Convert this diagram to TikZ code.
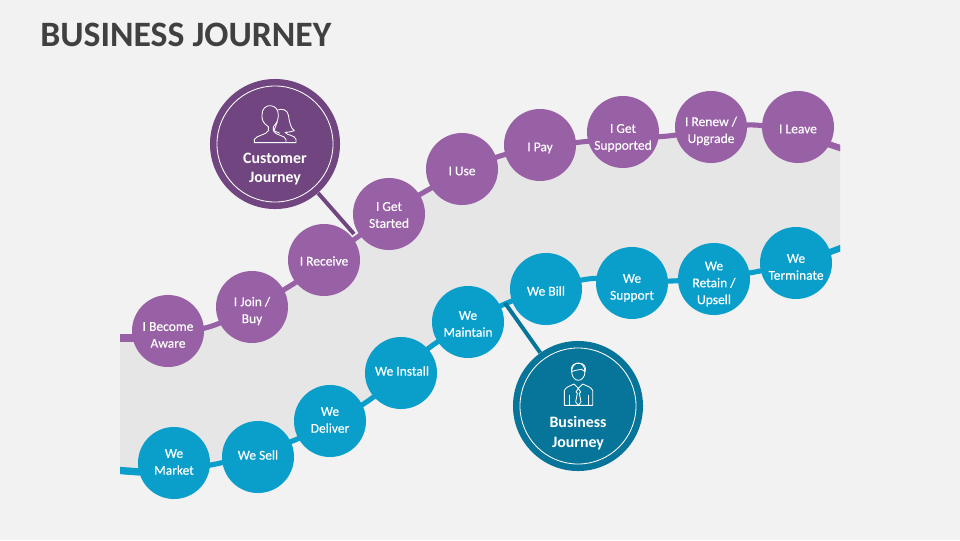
\documentclass[tikz,border=0pt]{standalone}
\usepackage{fontspec}
\setmainfont{Carlito}
\newfontfamily\stepfont[FakeBold=0.3]{Carlito}
\usetikzlibrary{backgrounds}
\definecolor{pagegrey}{HTML}{F2F2F2}
\definecolor{bandgrey}{HTML}{E6E6E6}
\definecolor{titlegrey}{HTML}{404040}
\definecolor{custlight}{HTML}{9861A6}
\definecolor{custdark}{HTML}{714580}
\definecolor{buslight}{HTML}{0A9ECB}
\definecolor{busdark}{HTML}{07749A}
\tikzset{
  stepcust/.style={circle,fill=custlight,minimum size=1.8cm,inner sep=0pt},
  stepbus/.style={circle,fill=buslight,minimum size=1.8cm,inner sep=0pt},
  steptext/.style={text=white,inner sep=0pt,align=center,font=\stepfont\fontsize{9.6}{12}\selectfont},
  bigcirc/.style={circle,minimum size=3.25cm,inner sep=0pt},
  bigring/.style={circle,draw=white,line width=0.6pt,minimum size=2.9cm,inner sep=0pt},
  biglabel/.style={text=white,align=center,font=\fontsize{11.3}{14}\selectfont\bfseries},
  iconline/.style={draw=white,line width=0.6pt,line join=round}
}
\begin{document}
\begin{tikzpicture}[x=0.025cm,y=-0.025cm]
\useasboundingbox (0,0) rectangle (960,540);
\node[anchor=west,text=titlegrey,font=\fontsize{25.4}{30}\selectfont\bfseries,inner sep=0pt] (title) at (40,35) {BUSINESS JOURNEY};

\coordinate (custstart) at (114,338);
\coordinate (custs) at (135,338);
\coordinate (custa) at (212,326);
\coordinate (custb) at (290,286);
\coordinate (custc) at (359,236);
\coordinate (custd) at (426,191);
\coordinate (custf) at (500,156);
\coordinate (custg) at (581,142);
\coordinate (custh) at (668,136);
\coordinate (custi) at (755,125);
\coordinate (custj) at (828,144);
\coordinate (custend) at (846,150);

\coordinate (busstart) at (114,470);
\coordinate (buss) at (140,472);
\coordinate (busa) at (216,464);
\coordinate (busb) at (295,440);
\coordinate (busc) at (368,401);
\coordinate (busd) at (433,345);
\coordinate (buse) at (507,303);
\coordinate (busf) at (588,279);
\coordinate (busg) at (672,281);
\coordinate (bush) at (755,272);
\coordinate (busi) at (830,252);
\coordinate (busend) at (846,246);

\coordinate (custfoot) at (354,234);
\coordinate (busfoot) at (505,303);

\node[stepcust] (become) at (168,331) {};
\node[stepcust] (join) at (252,307) {};
\node[stepcust] (receive) at (324,260) {};
\node[stepcust] (started) at (389,214) {};
\node[stepcust] (use) at (462,169) {};
\node[stepcust] (pay) at (540,145) {};
\node[stepcust] (supported) at (623,132) {};
\node[stepcust] (renew) at (711,127) {};
\node[stepcust] (leave) at (798,127) {};

\node[stepbus] (market) at (174,463) {};
\node[stepbus] (sell) at (258,457) {};
\node[stepbus] (deliver) at (330,421) {};
\node[stepbus] (install) at (401,373) {};
\node[stepbus] (maintain) at (468,322) {};
\node[stepbus] (bill) at (546,289) {};
\node[stepbus] (support) at (632,283) {};
\node[stepbus] (retain) at (714,279) {};
\node[stepbus] (terminate) at (796,263) {};

\node[steptext] (becometext) at (168,335) {I Become\\Aware};
\node[steptext] (jointext) at (252,311) {I Join /\\Buy};
\node[steptext] (receivetext) at (324,261) {I Receive};
\node[steptext] (startedtext) at (389,215) {I Get\\Started};
\node[steptext] (usetext) at (462,171) {I Use};
\node[steptext] (paytext) at (540,148) {I Pay};
\node[steptext] (supportedtext) at (623,138) {I Get\\Supported};
\node[steptext] (renewtext) at (711,131) {I Renew /\\Upgrade};
\node[steptext] (leavetext) at (798,129) {I Leave};

\node[steptext] (markettext) at (174,462) {We\\Market};
\node[steptext] (selltext) at (258,455) {We Sell};
\node[steptext] (delivertext) at (330,420) {We\\Deliver};
\node[steptext] (installtext) at (402,371) {We Install};
\node[steptext] (maintaintext) at (468,324) {We\\Maintain};
\node[steptext] (billtext) at (546,291) {We Bill};
\node[steptext] (supporttext) at (632,288) {We\\Support};
\node[steptext] (retaintext) at (714,284) {We\\Retain /\\Upsell};
\node[steptext] (terminatetext) at (796,267) {We\\Terminate};

\node[bigcirc,fill=custdark] (cust) at (275,144) {};
\node[bigcirc,fill=busdark] (bus) at (578,406) {};
\node[bigring] (custring) at (cust) {};
\node[bigring] (busring) at (bus) {};
\node[biglabel] (custlabel) at (275,169) {Customer\\Journey};
\node[biglabel] (buslabel) at (578,433) {Business\\Journey};

\begin{pgfonlayer}{background}
\fill[pagegrey] (0,0) rectangle (960,540);
\begin{scope}
\clip (120,0) rectangle (840,540);
\fill[bandgrey] plot[smooth] coordinates {(custstart) (custs) (custa) (custb) (custc) (custd) (custf) (custg) (custh) (custi) (custj) (custend)}
  -- plot[smooth] coordinates {(busend) (busi) (bush) (busg) (busf) (buse) (busd) (busc) (busb) (busa) (buss) (busstart)} -- cycle;
\draw[custlight,line width=3.6pt] plot[smooth] coordinates {(custstart) (custs) (custa) (custb) (custc) (custd) (custf) (custg) (custh) (custi) (custj) (custend)};
\draw[buslight,line width=3.6pt] plot[smooth] coordinates {(busstart) (buss) (busa) (busb) (busc) (busd) (buse) (busf) (busg) (bush) (busi) (busend)};
\draw[custlight,line width=5.2pt] (custstart) -- (custs);
\draw[custlight,line width=4.4pt] (custj) -- (custend);
\draw[buslight,line width=5.2pt] (busstart) -- (buss);
\draw[buslight,line width=4.4pt] (busi) -- (busend);
\end{scope}
\draw[custdark,line width=2.8pt] (cust) -- (custfoot);
\draw[busdark,line width=2.8pt] (bus) -- (busfoot);
\end{pgfonlayer}

\begin{scope}[shift={(200,70)},x=0.00833cm,y=-0.00833cm]
\draw[iconline] (258,218) -- (163,218) -- (163,208) .. controls (170,195) and (200,195) .. (205,182) -- (205,170) .. controls (190,160) and (185,150) .. (186,135) .. controls (186,115) and (198,107) .. (210,107) .. controls (225,107) and (235,118) .. (235,135) .. controls (235,150) and (230,160) .. (220,170) -- (220,182) .. controls (225,197) and (255,195) .. (258,208) -- cycle;
\draw[iconline] (233,120) .. controls (245,115) and (262,118) .. (265,135) .. controls (268,155) and (272,175) .. (283,182) .. controls (275,186) and (265,186) .. (255,187) .. controls (262,197) and (285,195) .. (288,208) -- (288,218) -- (258,218);
\draw[iconline] (232,155) .. controls (228,165) and (225,175) .. (222,182) .. controls (228,186) and (235,187) .. (240,190);
\end{scope}

\begin{scope}[shift={(490,300)},x=0.00833cm,y=-0.00833cm]
\draw[iconline] (265,215) ellipse (20 and 26);
\draw[iconline] (245,215) .. controls (240,195) and (255,188) .. (268,190) .. controls (282,190) and (290,200) .. (285,215) .. controls (280,208) and (270,205) .. (262,210) .. controls (255,212) and (250,212) .. (245,215) -- cycle;
\draw[iconline] (223,316) -- (223,272) .. controls (225,262) and (240,258) .. (252,252) -- (265,265) -- (278,252) .. controls (290,258) and (306,262) .. (308,272) -- (308,316) -- cycle;
\draw[iconline] (265,265) -- (258,276) -- (262,280) -- (257,306) -- (265,316) -- (273,306) -- (268,280) -- (272,276) -- cycle;
\draw[iconline] (237,285) -- (237,316) (294,285) -- (294,316);
\end{scope}
\end{tikzpicture}
\end{document}
